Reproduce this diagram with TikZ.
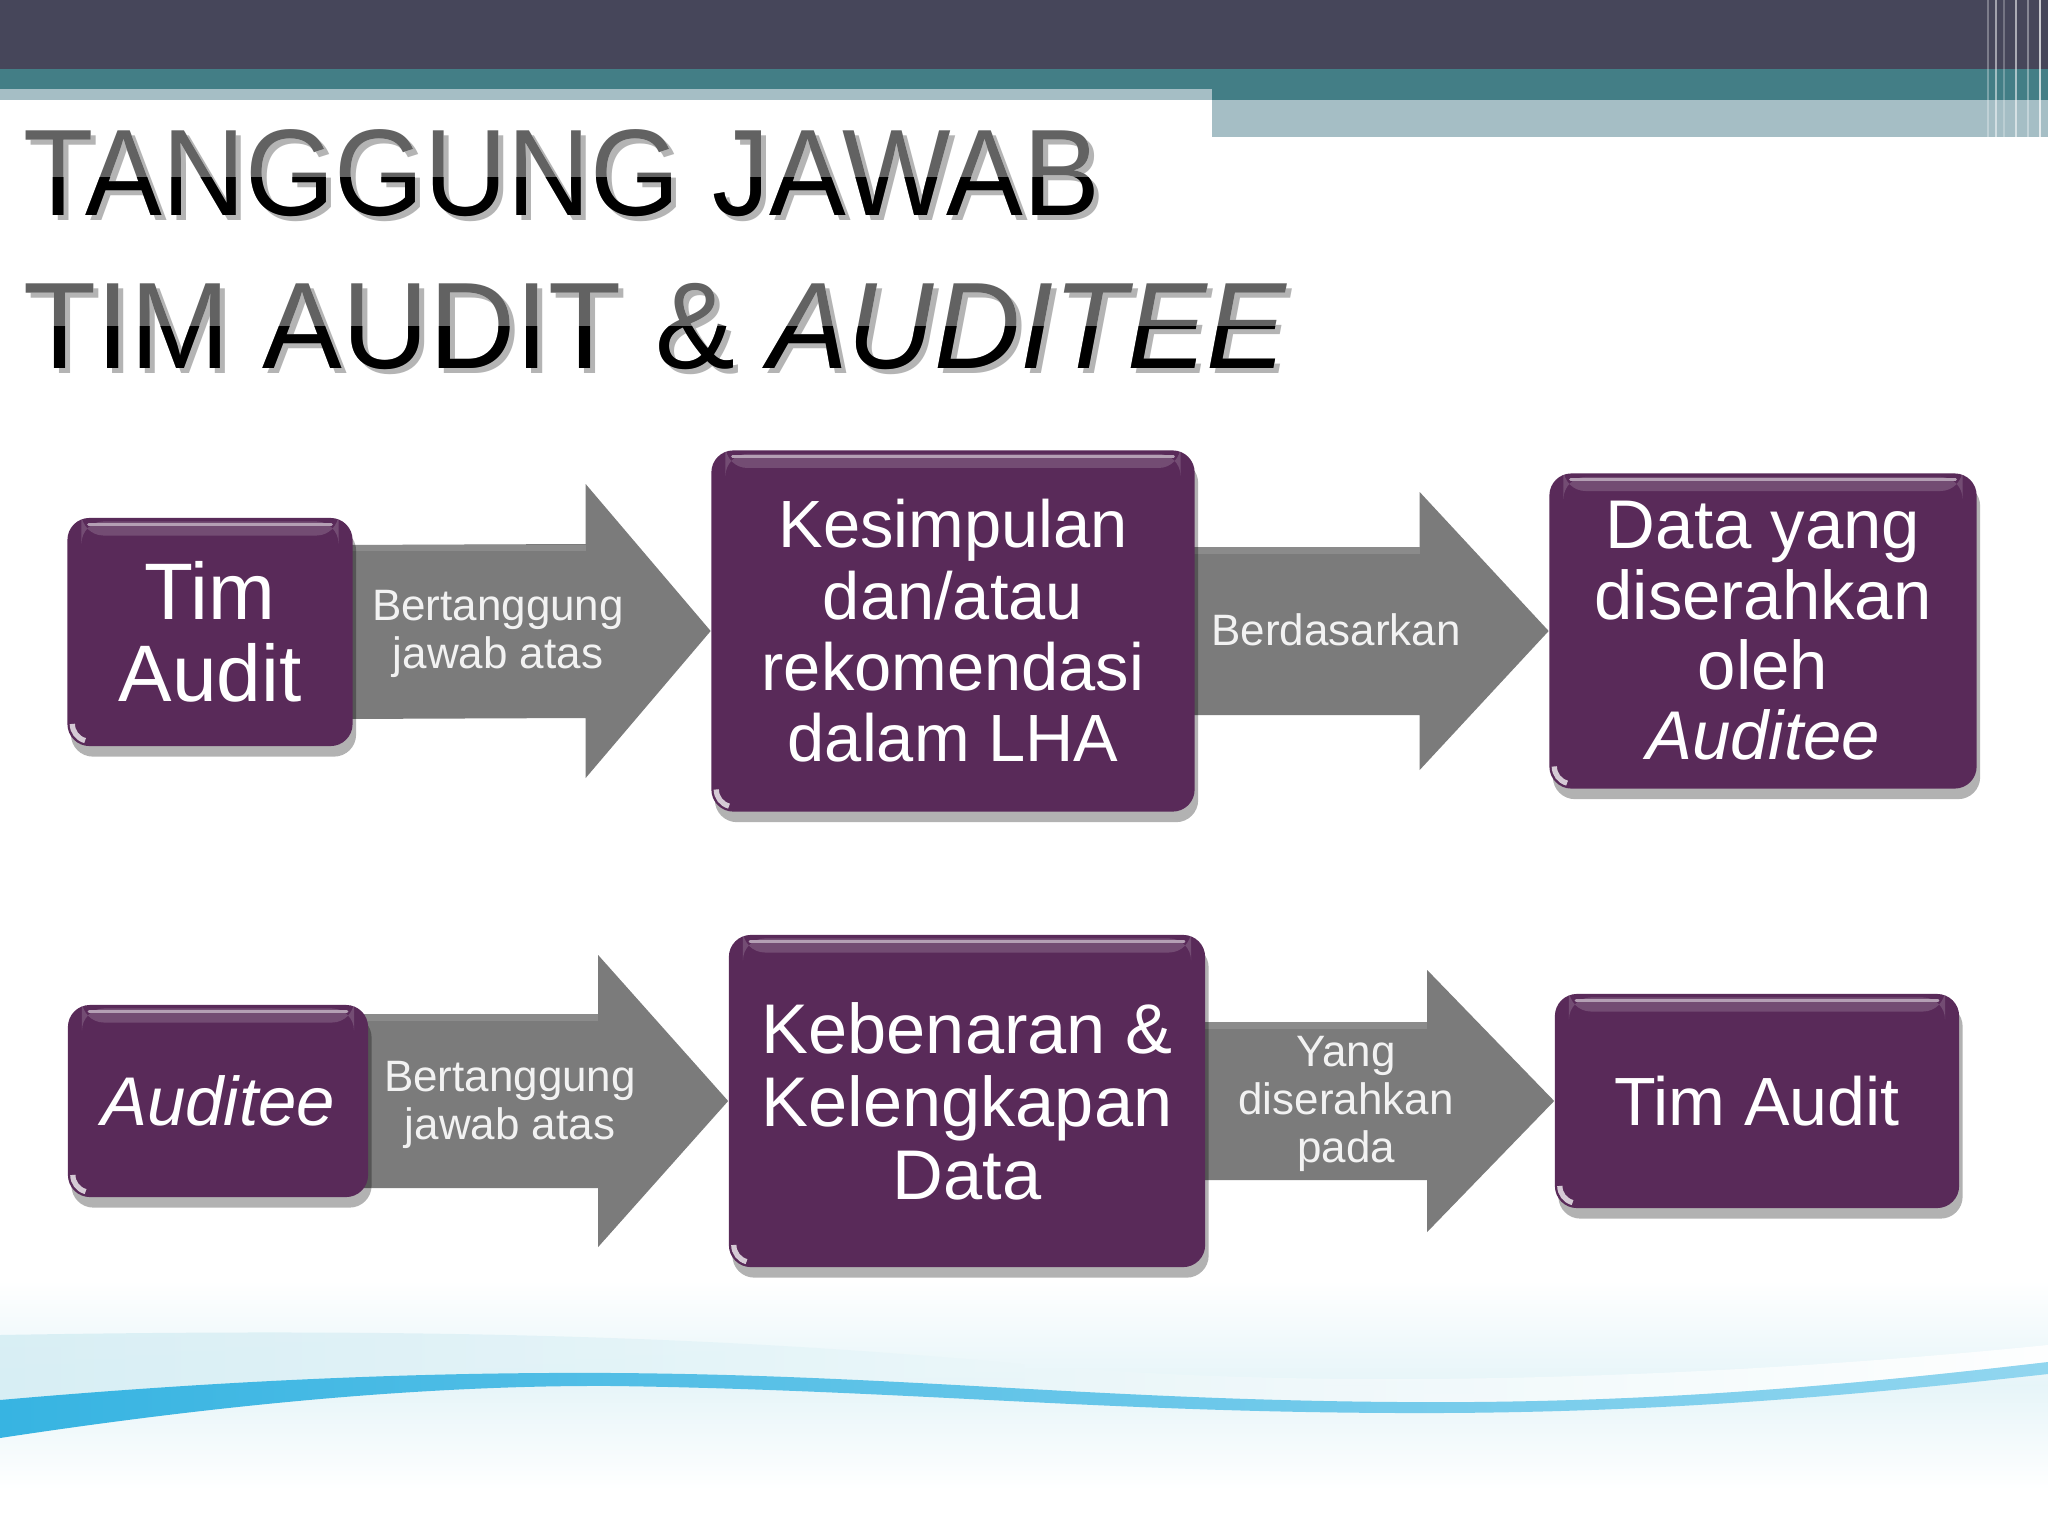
\documentclass[tikz,border=0pt]{standalone}
\usepackage{fontspec}
\setmainfont{Liberation Sans}
\usepackage{graphicx}
\usepackage{pdfrender}
\usetikzlibrary{calc,shadows}

\definecolor{barDark}{HTML}{46465A}
\definecolor{barTeal}{HTML}{437E86}
\definecolor{barLight}{HTML}{A5BEC5}
\definecolor{boxPurple}{HTML}{592A59}
\definecolor{arrowGray}{HTML}{7B7B7B}
\definecolor{lblText}{HTML}{F2F2F2}
\definecolor{titleGray}{HTML}{626262}
\definecolor{shadowGray}{HTML}{B4B4B4}
\definecolor{waveBlue}{HTML}{37B4E2}
\definecolor{waveLight}{HTML}{D6EEF4}

\pgfdeclarelayer{background}
\pgfsetlayers{background,main}

\tikzset{
  box/.style={fill=boxPurple, rounded corners=0.22cm, text=white, align=center, inner sep=0pt,
    drop shadow={shadow xshift=1pt, shadow yshift=-3pt, opacity=0.3, fill=black},
    path picture={
      \fill[white, opacity=0.16] ([xshift=4pt,yshift=-1pt]path picture bounding box.north west)
        rectangle ([xshift=-4pt,yshift=-5pt]path picture bounding box.north east);
      \draw[white!55!boxPurple, line width=0.8pt, line cap=round] ([xshift=6pt,yshift=-1.8pt]path picture bounding box.north west)
        -- ([xshift=-6pt,yshift=-1.8pt]path picture bounding box.north east);
      \draw[white!75!boxPurple, line width=1.5pt] ([xshift=1.4pt,yshift=6.3pt]path picture bounding box.south west)
        arc[start angle=180, end angle=255, radius=4.9pt];
    }},
  lbl/.style={text=lblText, align=center, inner sep=0pt, font=\fontsize{12.5}{13.7}\selectfont},
  arrowfill/.style={fill=arrowGray},
  titletext/.style={anchor=base west, inner sep=0pt, font=\fontsize{35}{40}\selectfont}
}

% block arrow: from, to, body half, head half, head length
\newcommand{\blockarrow}[5]{%
  \fill[arrowfill] ($(#1.east)+(-15,-#3)$) -- ($(#2.west)+(-#5,-#3)$) -- ($(#2.west)+(-#5,-#4)$)
    -- (#2.west) -- ($(#2.west)+(-#5,#4)$) -- ($(#2.west)+(-#5,#3)$) -- ($(#1.east)+(-15,#3)$) -- cycle;
  \fill[white, opacity=0.12] ($(#1.east)+(-15,-#3)$) rectangle ($(#2.west)+(-#5,-#3+7)$);
}

% title line: name, baseline, split y, text
\newcommand{\titleline}[4]{%
  \node[titletext, text=shadowGray] at ($(#2)+(5,5)$)
    {\textpdfrender{TextRenderingMode=FillStroke, LineWidth=3pt, StrokeColor=shadowGray, LineJoinStyle=1}{#4}};
  \node[titletext, text=white] at (#2)
    {\textpdfrender{TextRenderingMode=FillStroke, LineWidth=3pt, StrokeColor=white, LineJoinStyle=1}{#4}};
  \node[titletext, text=titleGray] (#1) at (#2) {#4};
  \begin{scope}
    \clip (0,#3) rectangle (2048,#3+60);
    \node[titletext, text=black] at (#2) {#4};
  \end{scope}
}

\begin{document}
\begin{tikzpicture}[x=0.01cm, y=-0.01cm]

\useasboundingbox (0,0) rectangle (2048,1536);

% top bars
\fill[barDark] (0,0) rectangle (2048,69);
\fill[barTeal] (0,69) rectangle (2048,100);
\fill[barLight] (0,89) rectangle (1212,100);
\fill[barLight] (1212,100) rectangle (2048,137);
\foreach \sx/\op in {1988/0.3,1996/0.5,2004/0.25,2016/0.55,2028/0.35,2040/0.7}
  \draw[white, opacity=\op, line width=0.6pt] (\sx,0) -- (\sx,137);

% title
\coordinate (ttlA) at (23,215);
\coordinate (ttlB) at (23,368);
\titleline{judulA}{ttlA}{177}{\scalebox{0.935}[1]{TANGGUNG JAWAB}}
\titleline{judulB}{ttlB}{326}{\scalebox{0.972}[1]{TIM AUDIT \& \textit{AUDITEE}}}

% boxes, row 1
\node[box, minimum width=2.85cm, minimum height=2.28cm, font=\fontsize{22.8}{23.4}\selectfont] (timA) at (210,632) {Tim\\Audit};
\node[box, minimum width=4.83cm, minimum height=3.61cm, font=\fontsize{19}{20.3}\selectfont] (simpul) at (953,631) {Kesimpulan\\dan/atau\\rekomendasi\\dalam LHA};
\node[box, minimum width=4.27cm, minimum height=3.15cm, font=\fontsize{19.6}{20}\selectfont] (dataA) at (1763,631) {Data yang\\diserahkan\\oleh\\\textit{Auditee}};

% boxes, row 2
\node[box, minimum width=3.00cm, minimum height=1.92cm, font=\fontsize{19.6}{20}\selectfont] (auditee) at (218,1101) {\textit{Auditee}};
\node[box, minimum width=4.76cm, minimum height=3.32cm, font=\fontsize{20}{20.8}\selectfont] (benar) at (967,1101) {Kebenaran \&\\Kelengkapan\\Data};
\node[box, minimum width=4.04cm, minimum height=2.14cm, font=\fontsize{19.4}{20}\selectfont] (timB) at (1757,1101) {Tim Audit};

\begin{pgfonlayer}{background}
  \fill[white] (0,0) rectangle (2048,1536);
  % bottom wave
  \shade[top color=white, bottom color=white, middle color=waveLight!60] (0,1280) rectangle (2048,1490);
  \shade[left color=waveLight, right color=white, opacity=0.9] (0,1335) .. controls (400,1328) and (700,1335) .. (1000,1362)
    .. controls (1300,1392) and (1700,1380) .. (2048,1345) -- (2048,1362) .. controls (1850,1385) and (1650,1404) .. (1400,1402)
    .. controls (1100,1400) and (900,1375) .. (614,1373) .. controls (450,1372) and (250,1380) .. (0,1402) -- cycle;
  \shade[left color=waveBlue, right color=waveBlue!55!white] (0,1400) .. controls (250,1378) and (450,1372) .. (614,1373)
    .. controls (900,1375) and (1100,1400) .. (1400,1402) .. controls (1650,1404) and (1850,1385) .. (2048,1362)
    -- (2048,1374) .. controls (1850,1396) and (1650,1414) .. (1400,1413) .. controls (1100,1412) and (900,1390) .. (614,1386)
    .. controls (450,1385) and (250,1400) .. (0,1438) -- cycle;
  % arrows
  \blockarrow{timA}{simpul}{87}{147}{125}
  \blockarrow{simpul}{dataA}{84}{139}{129}
  \blockarrow{auditee}{benar}{87}{146}{130}
  \blockarrow{benar}{timB}{79}{131}{127}
\end{pgfonlayer}

% arrow labels
\node[lbl] (lblA) at (498,634) {Bertanggung\\jawab atas};
\node[lbl] (lblB) at (1336,630) {Berdasarkan};
\node[lbl] (lblC) at (510,1105) {Bertanggung\\jawab atas};
\node[lbl] (lblD) at (1346,1104) {Yang\\diserahkan\\pada};

\end{tikzpicture}
\end{document}
